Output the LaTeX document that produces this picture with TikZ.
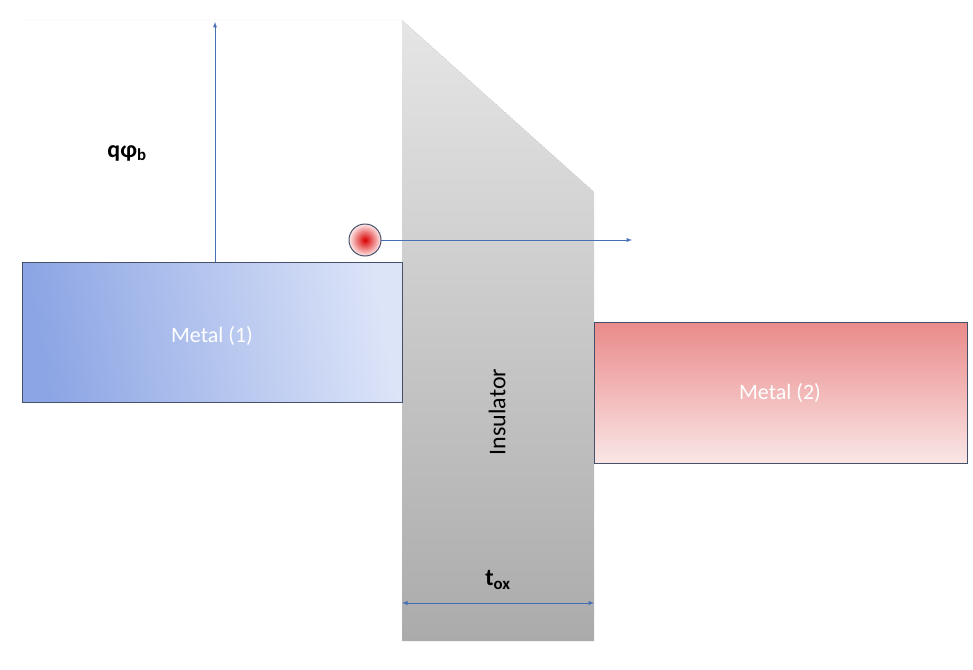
\documentclass[tikz,border=0pt]{standalone}
\usepackage{fontspec}
\setmainfont{Carlito}
\begin{document}
\begin{tikzpicture}[x=1pt,y=-1pt,
  arr/.style={draw={rgb,255:red,70;green,110;blue,180},line width=0.9pt,-latex},
  lbl/.style={text=white,font=\fontsize{22}{24}\selectfont}]
\definecolor{mblueA}{RGB}{140,165,228}
\definecolor{mblueB}{RGB}{220,228,248}
\definecolor{mredA}{RGB}{234,138,138}
\definecolor{mredB}{RGB}{250,230,230}
\definecolor{edgec}{RGB}{70,80,105}
\useasboundingbox (0,0) rectangle (973,669);
% insulator
\shade[top color=black!10, bottom color=black!33] (402,20) -- (594,192) -- (594,641) -- (402,641) -- cycle;
\draw[black!40,dotted] (22,20) -- (402,20) -- (594,192);
% metals
\shade[left color=mblueA,right color=mblueB,shading angle=100] (22,262) rectangle (402,402);
\draw[edgec,line width=1pt] (22,262) rectangle (402,402);
\node[lbl] (m1) at (212,336) {Metal (1)};
\shade[top color=mredA,bottom color=mredB] (594,322) rectangle (967,463);
\draw[edgec,line width=1pt] (594,322) rectangle (967,463);
\node[lbl] (m2) at (780,393) {Metal (2)};
\node[rotate=90,font=\fontsize{24}{26}\selectfont] (ins) at (497,412) {Insulator};
% barrier arrow
\coordinate (b0) at (215,262);
\coordinate (b1) at (215,22);
\draw[arr] (b0) -- (b1);
\node[font=\bfseries\fontsize{24}{26}\selectfont] (qp) at (127,153) {qφ\textsubscript{b}};
% electron
\shade[inner color=red!85!black,outer color=red!8] (365,240) circle (16);
\draw[edgec,line width=1pt] (365,240) circle (16);
\node[circle,minimum size=32pt,inner sep=0] (e) at (365,240) {};
\coordinate (et) at (632,240);
\draw[arr] (e.east) -- (et);
% tox
\coordinate (t0) at (402,603);
\coordinate (t1) at (594,603);
\draw[arr,latex-latex] (t0) -- (t1);
\node[font=\bfseries\fontsize{24}{26}\selectfont] (tox) at (498,580) {t\textsubscript{ox}};
\end{tikzpicture}
\end{document}
